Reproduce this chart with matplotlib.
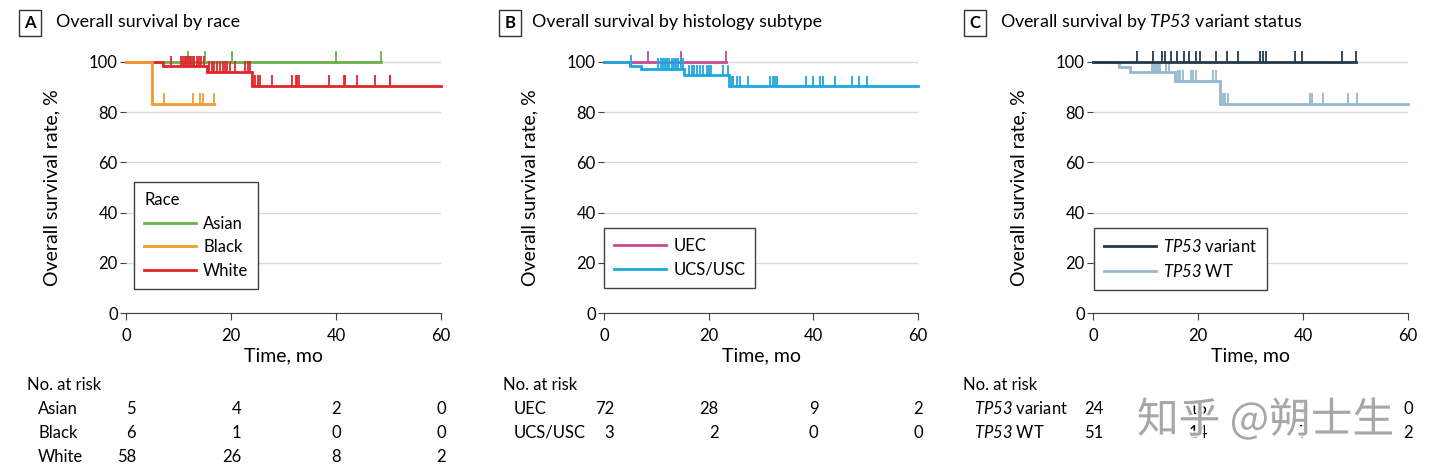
import matplotlib
matplotlib.use("Agg")
import matplotlib.pyplot as plt
import matplotlib.patheffects as pe
from matplotlib.transforms import blended_transform_factory, offset_copy
import numpy as np

plt.rcParams['font.family'] = ['Lato', 'DejaVu Sans']
plt.rcParams['font.size'] = 12
plt.rcParams['mathtext.fontset'] = 'custom'
plt.rcParams['mathtext.it'] = 'Lato:italic'
plt.rcParams['mathtext.rm'] = 'Lato:italic'

# Panel A: race
asian_t = [0]
asian_s = [100]
asian_end = 48.6
asian_cens = [11.8, 15.0, 20.2, 40.0, 48.6]

black_t = [0, 5.0]
black_s = [100, 83.3]
black_end = 16.8
black_cens = [7.3, 12.7, 14.1, 14.7, 16.8]

white_t = [0, 7.0, 15.4, 24.0]
white_s = [100, 98.3, 96.0, 90.6]
white_end = 60
white_cens = [8.5, 10.5, 10.9, 11.2, 11.5, 11.8, 12.1, 12.4, 12.7, 13.0, 13.5, 13.9,
              14.3, 14.9, 15.8, 16.3, 16.8, 17.3, 17.9, 18.4, 18.9, 19.3, 19.8, 20.8,
              22.7, 23.2, 23.6, 24.6, 25.1, 25.5, 27.8, 31.7, 32.3, 32.6, 33.0, 38.7,
              41.5, 41.8, 44.0, 47.4, 50.2, 50.3]

# Panel B: histology
uec_t = [0]
uec_s = [100]
uec_end = 23.4
uec_cens = [8.4, 14.7, 23.4]

ucs_t = [0, 5.0, 7.0, 15.2, 23.9]
ucs_s = [100, 98.6, 97.2, 94.8, 90.4]
ucs_end = 60
ucs_cens = [5.1, 10.4, 10.9, 11.3, 11.7, 12.1, 12.5, 12.9, 13.4, 13.8, 14.2, 14.7, 15.0,
            16.3, 16.8, 17.2, 17.7, 18.3, 18.9, 19.6, 20.1, 20.4, 22.7, 23.7,
            24.4, 24.7, 25.4, 25.9, 27.6, 31.7, 32.2, 32.6, 33.0, 38.6, 39.9, 41.3,
            41.8, 44.2, 47.3, 48.8, 50.3]

# Panel C: TP53
var_t = [0]
var_s = [100]
var_end = 50.1
var_cens = [8.4, 11.4, 13.1, 13.8, 14.9, 16.0, 17.3, 18.3, 19.7, 20.4, 23.4, 25.5,
            27.6, 31.8, 32.4, 32.9, 38.5, 39.9, 47.4, 50.1]

wt_t = [0, 5.0, 7.1, 15.6, 24.1]
wt_s = [100, 98.0, 96.1, 92.6, 83.3]
wt_end = 60
wt_cens = [11.2, 11.6, 12.0, 12.4, 12.8, 13.9, 14.5, 16.1, 16.6, 17.2, 18.7, 19.1,
           19.6, 22.8, 23.4, 24.7, 25.1, 25.8, 41.3, 41.8, 43.9, 48.6, 50.3]

# Numbers at risk
risk_times = [0, 20, 40, 60]
risk_race = {"Asian": [5, 4, 2, 0], "Black": [6, 1, 0, 0], "White": [58, 26, 8, 2]}
risk_hist = {"UEC": [72, 28, 9, 2], "UCS/USC": [3, 2, 0, 0]}
risk_tp53 = {r"$TP53$ variant": [24, 15, 3, 0], r"$TP53$ WT": [51, 14, 7, 2]}

W, H = 1440, 476
fig = plt.figure(figsize=(W / 100, H / 100), dpi=100)


def km(ax, t, s, end, cens, color, label, z):
    xs = list(t) + [end]
    ys = list(s) + [s[-1]]
    ax.step(xs, ys, where="post", color=color, lw=2, label=label, zorder=z,
            clip_on=False, solid_joinstyle="miter")
    idx = np.searchsorted(t, cens, side="right") - 1
    cy = np.array(s)[idx]
    ax.vlines(cens, cy, cy + 4.2, color=color, lw=1.3, zorder=z, clip_on=False)


def setup(ax):
    ax.set_xlim(0, 60)
    ax.set_ylim(0, 105)
    ax.set_xticks([0, 20, 40, 60])
    ax.set_yticks([0, 20, 40, 60, 80, 100])
    ax.grid(axis="y", color="#d9d9d9", lw=1)
    ax.set_axisbelow(True)
    for sp in ["top", "right", "left"]:
        ax.spines[sp].set_visible(False)
    ax.spines["bottom"].set_color("#404040")
    ax.tick_params(axis="x", length=5, color="#404040", pad=6)
    ax.tick_params(axis="y", length=4, color="#404040", pad=2)
    ax.set_xlabel("Time, mo", fontsize=14)
    ax.set_ylabel("Overall survival rate, %", fontsize=14)
    ax.xaxis.set_label_coords(0.5, -0.13)
    ax.yaxis.set_label_coords(-0.208, 0.476)


def risk_table(ax, x_label, rows):
    tr = blended_transform_factory(ax.transData, fig.transFigure)
    fig.text(x_label / W, 1 - 385 / H, "No. at risk", ha="left", va="center")
    names = list(rows.keys())
    for i, name in enumerate(names):
        yy = 1 - (409 + 24 * i) / H
        fig.text((x_label + 11) / W, yy, name, ha="left", va="center")
    for j, tm in enumerate(risk_times):
        col = [rows[n][j] for n in names]
        maxlen = max(len(str(v)) for v in col)
        trj = offset_copy(tr, fig=fig, x=maxlen * 3.6, y=0, units="points")
        for i, v in enumerate(col):
            yy = 1 - (409 + 24 * i) / H
            ax.text(tm, yy, str(v), ha="right", va="center", transform=trj)


def panel_title(letter, x_box, x_text, text):
    fig.text(x_box / W, 1 - 23 / H, letter, ha="center", va="center", fontweight="bold",
             bbox=dict(boxstyle="square,pad=0.32", fc="white", ec="#333333", lw=1))
    fig.text(x_text / W, 1 - 22 / H, text, ha="left", va="center", fontsize=12.9)


def legend(ax, handles, labels, x_px, y_px, x0_px, **kw):
    leg = ax.legend(handles, labels, loc="upper left",
                    bbox_to_anchor=((x_px - x0_px) / 315, (313 - y_px) / 263.6),
                    borderaxespad=0, fancybox=False, edgecolor="#404040", framealpha=1,
                    handlelength=3.1, handletextpad=0.45, labelspacing=0.45,
                    borderpad=0.6, fontsize=12, **kw)
    leg.get_frame().set_linewidth(1)
    return leg


bottom = (H - 313) / H
height = 105 * 2.51 / H

# A
axA = fig.add_axes([126 / W, bottom, 315 / W, height])
setup(axA)
km(axA, asian_t, asian_s, asian_end, asian_cens, "#6ab04c", "Asian", 2)
km(axA, white_t, white_s, white_end, white_cens, "#e0262b", "White", 3)
km(axA, black_t, black_s, black_end, black_cens, "#f29a2e", "Black", 4)
h, l = axA.get_legend_handles_labels()
order = [l.index("Asian"), l.index("Black"), l.index("White")]
legend(axA, [h[k] for k in order], [l[k] for k in order], 134, 182, 126,
       title="Race", alignment="left", title_fontsize=12)
risk_table(axA, 27, risk_race)
panel_title("A", 30, 56, "Overall survival by race")

# B
axB = fig.add_axes([604 / W, bottom, 314 / W, height])
setup(axB)
km(axB, uec_t, uec_s, uec_end, uec_cens, "#c74b8f", "UEC", 2)
km(axB, ucs_t, ucs_s, ucs_end, ucs_cens, "#1ea7df", "UCS/USC", 3)
h, l = axB.get_legend_handles_labels()
legend(axB, h, l, 604, 228, 604)
risk_table(axB, 503, risk_hist)
panel_title("B", 510, 532, "Overall survival by histology subtype")

# C
axC = fig.add_axes([1093 / W, bottom, 315 / W, height])
setup(axC)
km(axC, wt_t, wt_s, wt_end, wt_cens, "#93b9d0", r"$TP53$ WT", 2)
km(axC, var_t, var_s, var_end, var_cens, "#23394b", r"$TP53$ variant", 3)
h, l = axC.get_legend_handles_labels()
legend(axC, h[::-1], l[::-1], 1094, 228, 1093)
risk_table(axC, 963, risk_tp53)
panel_title("C", 975, 1000, r"Overall survival by $TP53$ variant status")

# watermark
wm = fig.text(1137 / W, 1 - 420 / H, "知乎 @朔士生", ha="left", va="center", fontsize=30,
              color="#9a9a9a", alpha=0.85, family=["Noto Sans CJK SC", "DejaVu Sans"])
wm.set_path_effects([pe.withStroke(linewidth=3, foreground="white")])

fig.savefig("out.png", dpi=100)
